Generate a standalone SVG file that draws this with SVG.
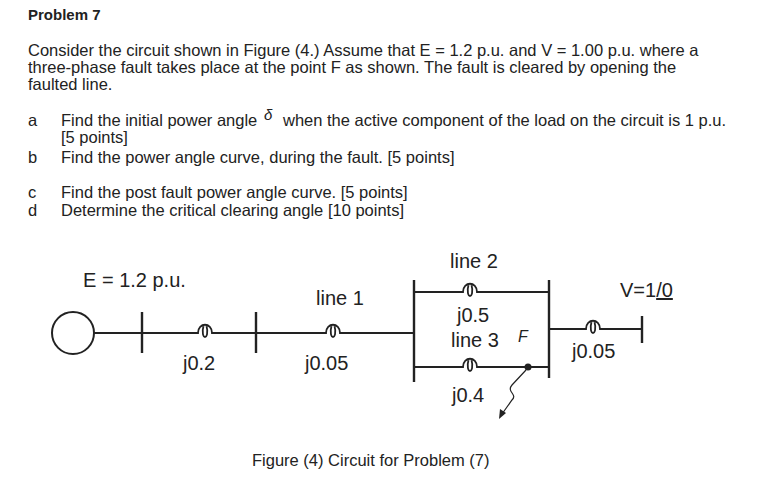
<svg xmlns="http://www.w3.org/2000/svg" width="770" height="488" viewBox="0 0 770 488">
<style>
text{font-family:"Liberation Sans",Arial,sans-serif;fill:#222}
.t{font-size:16.5px}
.c{font-size:20px}
.w{stroke:#222;stroke-width:2;fill:none}
.b{stroke:#222;stroke-width:2.4;fill:none}
</style>
<defs>
<path id="ind" d="M-11,0 L-7,0 C-7,-11 7,-11 7,0 L11,0 M-1.5,-7 C-3.5,0 -1.5,4 0,4 C1.5,4 3.5,0 1.5,-7" stroke="#222" stroke-width="1.8" fill="none"/>
</defs>
<rect width="770" height="488" fill="#fff"/>
<text x="28" y="20" font-size="15" font-weight="bold">Problem 7</text>
<text x="28" y="56" class="t">Consider the circuit shown in Figure (4.) Assume that E = 1.2 p.u. and V = 1.00 p.u. where a</text>
<text x="28" y="73" class="t">three-phase fault takes place at the point F as shown. The fault is cleared by opening the</text>
<text x="28" y="90" class="t">faulted line.</text>
<text x="28" y="126" class="t">a</text>
<text x="61" y="126" class="t">Find the initial power angle</text>
<text x="264" y="120" font-family="Liberation Serif,serif" font-size="15" font-style="italic">δ</text>
<text x="283" y="126" class="t">when the active component of the load on the circuit is 1 p.u.</text>
<text x="61" y="143" class="t">[5 points]</text>
<text x="28" y="163" class="t">b</text>
<text x="61" y="163" class="t">Find the power angle curve, during the fault. [5 points]</text>
<text x="28" y="198" class="t">c</text>
<text x="61" y="198" class="t">Find the post fault power angle curve. [5 points]</text>
<text x="28" y="216" class="t">d</text>
<text x="61" y="216" class="t">Determine the critical clearing angle  [10 points]</text>

<g id="gen"><circle cx="73" cy="333" r="21" class="w"/></g>
<g id="connectors">
<path class="w" d="M94,333 H194 M216,333 H322 M344,333 H414"/>
<path class="w" d="M414,292 H459 M481,292 H549 M414,367 H459 M481,367 H549 M549,329 H582 M604,329 H642"/>
<path class="b" d="M142,312 V353 M256,312 V353 M414,280 V382 M549,280 V378 M642,316 V343"/>
<use href="#ind" x="205" y="333"/><use href="#ind" x="333" y="333"/>
<use href="#ind" x="470" y="292"/><use href="#ind" x="470" y="367"/><use href="#ind" x="593" y="329"/>
<circle cx="528" cy="367" r="3.5" fill="#222"/>
<path d="M526,370 L512,385 C506,392 518,394 512,400 L502,414" stroke="#222" stroke-width="1.2" fill="none"/>
<path d="M499,419 L500,409 L506,413 Z" fill="#222"/>
</g>
<text x="83" y="287" class="c">E = 1.2 p.u.</text>
<text x="316" y="305" class="c">line 1</text>
<text x="450" y="268" class="c">line 2</text>
<text x="620" y="297" class="c">V=1<tspan text-decoration="underline">/0</tspan></text>
<text x="183" y="370" class="c">j0.2</text>
<text x="305" y="370" class="c">j0.05</text>
<text x="457" y="322" class="c">j0.5</text>
<text x="451" y="347" class="c">line 3</text>
<text x="518" y="342" font-family="Liberation Serif,serif" font-size="16" font-style="italic" fill="#222">F</text>
<text x="452" y="402" class="c">j0.4</text>
<text x="572" y="358" class="c">j0.05</text>
<text x="252" y="466" class="t">Figure (4) Circuit for Problem (7)</text>
</svg>
